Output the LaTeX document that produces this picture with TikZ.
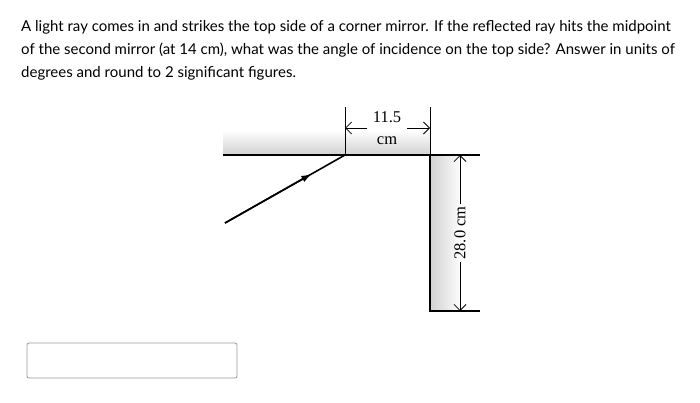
\documentclass[tikz,border=0pt]{standalone}
\usetikzlibrary{arrows.meta,calc}
\usepackage{fontspec}
\setmainfont{Lato}
\newfontfamily\figfont{Liberation Serif}
\begin{document}
\begin{tikzpicture}[x=1pt,y=-1pt,
  qtext/.style={anchor=base west,inner sep=0pt,font=\fontsize{15}{17}\selectfont},
  lab/.style={inner sep=2pt,font=\figfont\fontsize{16.5}{18}\selectfont},
  mirror/.style={line width=1.2pt},
  dim/.style={line width=0.8pt,-{Straight Barb[length=6pt,width=12pt]}}]
\useasboundingbox (0,0) rectangle (700,402);
\fill[white] (0,0) rectangle (700,402);
\node[qtext] (l1) at (21,31) {A light ray comes in and strikes the top side of a corner mirror. If the reflected ray hits the midpoint};
\node[qtext] (l2) at (21,54) {of the second mirror (at 14 cm), what was the angle of incidence on the top side? Answer in units of};
\node[qtext] (l3) at (21,77) {degrees and round to 2 significant figures.};
% shading
\shade[top color=white,bottom color=black!18] (223,130) rectangle (430,155);
\shade[left color=black!18,right color=white] (430,155) rectangle (462,311);
% mirrors
\coordinate (tl) at (223,155);
\coordinate (tr) at (480,155);
\coordinate (c) at (430,155);
\coordinate (b) at (430,311);
\coordinate (br) at (480,311);
\draw[mirror] (tl) -- (tr);
\draw[mirror] (c) -- (b) -- (br);
% ray
\coordinate (s) at (225,223);
\coordinate (p) at (345,155);
\draw[line width=1.6pt] (s) -- (p);
\draw[line width=1.6pt,-{Latex[length=10pt,width=7pt]}] (s) -- ($(s)!0.72!(p)$);
% horizontal dimension
\coordinate (t1) at (345,107);
\coordinate (t2) at (430,107);
\draw[line width=0.8pt] (t1) -- (p);
\draw[line width=0.8pt] (t2) -- (c);
\node[lab] (n1) at (387,117) {11.5};
\node[lab] (n2) at (387,141) {cm};
\draw[dim] (367,128) -- (345,128);
\draw[dim] (407,128) -- (430,128);
% vertical dimension
\node[lab,rotate=90] (n3) at (460,233) {28.0 cm};
\draw[dim] (n3.east) -- (460,155);
\draw[dim] (n3.west) -- (460,311);
% answer box
\draw[black!40,rounded corners=2pt,line width=0.8pt] (27,343) rectangle (237,378);
\end{tikzpicture}
\end{document}
